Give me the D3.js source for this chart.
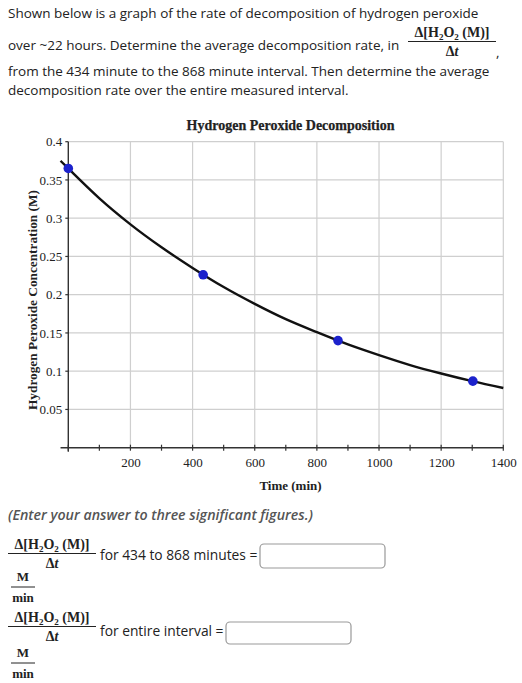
<!DOCTYPE html>
<html>
<head>
<meta charset="utf-8">
<script src="https://cdn.jsdelivr.net/npm/d3@7"></script>
<style>
  body { margin: 0; background: #fff; }
  text { fill: #222; }
  .tick text { font-family: 'Liberation Serif', 'Times New Roman', serif; font-size: 13px; }
</style>
</head>
<body>
<script>
// data
let measuredTimes = [0, 434, 868, 1302];
let measuredConc = [0.365, 0.226, 0.140, 0.087];
let curveTimes = [-25, 0, 100, 200, 300, 400, 500, 600, 700, 800, 900, 1000, 1100, 1200, 1300, 1400];
let curveConc = [0.375, 0.365, 0.326, 0.292, 0.262, 0.235, 0.210, 0.188, 0.168, 0.151, 0.135, 0.121, 0.108, 0.097, 0.087, 0.078];
let xTicks = [200, 400, 600, 800, 1000, 1200, 1400];
let xMinorTicks = [100, 300, 500, 700, 900, 1100, 1300];
let yTicks = [0.05, 0.1, 0.15, 0.2, 0.25, 0.3, 0.35, 0.4];

let width = 522;
let height = 683;
let svg = d3.select("body").append("svg")
    .attr("width", width).attr("height", height);

let sans = "'Open Sans', sans-serif";
let serif = "'Liberation Serif', 'Times New Roman', serif";
let questionSize = "13.5px";
let answerSize = "13.8px";

// 题目文字
let question = svg.append("g").style("font-family", sans).style("font-size", questionSize);
question.append("text").attr("x", 8).attr("y", 18)
    .text("Shown below is a graph of the rate of decomposition of hydrogen peroxide");
question.append("text").attr("x", 8).attr("y", 50)
    .text("over ~22 hours. Determine the average decomposition rate, in");
question.append("text").attr("x", 8).attr("y", 76)
    .text("from the 434 minute to the 868 minute interval. Then determine the average");
question.append("text").attr("x", 8).attr("y", 95)
    .text("decomposition rate over the entire measured interval.");
question.append("text").attr("x", 496).attr("y", 57).text(",");

// Δ[H2O2 (M)] / Δt fraction
function rateFraction(g, cx, top) {
    let num = g.append("text").attr("x", cx).attr("y", top)
        .attr("text-anchor", "middle")
        .style("font-family", serif).style("font-weight", "bold").style("font-size", "14px");
    num.append("tspan").text("Δ[H");
    num.append("tspan").attr("dy", 3).style("font-size", "9px").text("2");
    num.append("tspan").attr("dy", -3).text("O");
    num.append("tspan").attr("dy", 3).style("font-size", "9px").text("2");
    num.append("tspan").attr("dy", -3).text(" (M)]");
    g.append("line").attr("x1", cx - 44).attr("x2", cx + 44)
        .attr("y1", top + 4.5).attr("y2", top + 4.5)
        .attr("stroke", "#222").attr("stroke-width", 1);
    let den = g.append("text").attr("x", cx).attr("y", top + 19)
        .attr("text-anchor", "middle")
        .style("font-family", serif).style("font-weight", "bold").style("font-size", "14px");
    den.append("tspan").text("Δ");
    den.append("tspan").style("font-style", "italic").text("t");
}

function unitFraction(g, cx, top) {
    g.append("text").attr("x", cx).attr("y", top).attr("text-anchor", "middle")
        .style("font-family", serif).style("font-weight", "bold").style("font-size", "13px")
        .text("M");
    g.append("line").attr("x1", cx - 12).attr("x2", cx + 12)
        .attr("y1", top + 6).attr("y2", top + 6)
        .attr("stroke", "#222").attr("stroke-width", 1);
    g.append("text").attr("x", cx).attr("y", top + 21).attr("text-anchor", "middle")
        .style("font-family", serif).style("font-weight", "bold").style("font-size", "13px")
        .text("min");
}

rateFraction(svg.append("g"), 452, 37);

// 图表区域
let xScale = d3.scaleLinear().domain([0, 1400]).range([68.3, 503.3]);
let yScale = d3.scaleLinear().domain([0, 0.4]).range([447.7, 141.7]);

let chart = svg.append("g");

// 网格
chart.append("g").selectAll("line").data(xTicks).join("line")
    .attr("x1", d => xScale(d)).attr("x2", d => xScale(d))
    .attr("y1", yScale(0.4)).attr("y2", yScale(0))
    .attr("stroke", "#cfcfcf").attr("stroke-width", 1.2);
chart.append("g").selectAll("line").data(yTicks).join("line")
    .attr("x1", xScale(0)).attr("x2", xScale(1400))
    .attr("y1", d => yScale(d)).attr("y2", d => yScale(d))
    .attr("stroke", "#cfcfcf").attr("stroke-width", 1.2);

// 坐标轴文字样式
function tickTextStyle(g) {
    g.attr("font-family", serif).attr("font-size", 13);
    g.select(".domain").remove();
    g.selectAll("text").attr("fill", "#222");
}

// x轴
let xAxis = d3.axisBottom(xScale).tickValues(xTicks).tickSize(0).tickPadding(10)
    .tickFormat(d3.format("d"));
chart.append("g").attr("transform", `translate(0,${yScale(0)})`)
    .call(xAxis)
    .call(tickTextStyle);
chart.append("line")
    .attr("x1", xScale(-25)).attr("x2", xScale(1400))
    .attr("y1", yScale(0)).attr("y2", yScale(0))
    .attr("stroke", "#333").attr("stroke-width", 1.4);
chart.append("g").selectAll("line").data([0].concat(xTicks, xMinorTicks)).join("line")
    .attr("x1", d => xScale(d)).attr("x2", d => xScale(d))
    .attr("y1", yScale(0) - 3).attr("y2", yScale(0) + 3)
    .attr("stroke", "#333").attr("stroke-width", 1.2);

// y轴
let yAxis = d3.axisLeft(yScale).tickValues(yTicks).tickSize(0).tickPadding(6)
    .tickFormat(d => String(+d.toFixed(2)));
chart.append("g").attr("transform", `translate(${xScale(0)},0)`)
    .call(yAxis)
    .call(tickTextStyle);
chart.append("line")
    .attr("x1", xScale(0)).attr("x2", xScale(0))
    .attr("y1", yScale(0.4)).attr("y2", yScale(0) + 4)
    .attr("stroke", "#333").attr("stroke-width", 1.4);
chart.append("g").selectAll("line").data(yTicks).join("line")
    .attr("x1", xScale(0) - 3).attr("x2", xScale(0))
    .attr("y1", d => yScale(d)).attr("y2", d => yScale(d))
    .attr("stroke", "#333").attr("stroke-width", 1.2);

// 标题和轴标签
chart.append("text").attr("x", 290.5).attr("y", 130).attr("text-anchor", "middle")
    .style("font-family", serif).style("font-size", "14px").style("font-weight", "600")
    .attr("stroke", "#222").attr("stroke-width", 0.25)
    .text("Hydrogen Peroxide Decomposition");
chart.append("text").attr("x", 290.5).attr("y", 490).attr("text-anchor", "middle")
    .style("font-family", serif).style("font-size", "13px").style("font-weight", "bold")
    .text("Time (min)");
chart.append("text").attr("transform", "translate(37,300) rotate(-90)").attr("text-anchor", "middle")
    .style("font-family", serif).style("font-size", "13.3px").style("font-weight", "bold")
    .text("Hydrogen Peroxide Concentration (M)");

// 拟合曲线
let line = d3.line()
    .x((d, i) => xScale(curveTimes[i]))
    .y(d => yScale(d))
    .curve(d3.curveMonotoneX);
chart.append("path").datum(curveConc)
    .attr("d", line)
    .attr("fill", "none").attr("stroke", "#111").attr("stroke-width", 2.4);

// 数据点
chart.append("g").selectAll("circle").data(measuredConc).join("circle")
    .attr("cx", (d, i) => xScale(measuredTimes[i]))
    .attr("cy", d => yScale(d))
    .attr("r", 4.8)
    .attr("fill", "#1c22cc");

// 答题部分
let answer = svg.append("g");
answer.append("text").attr("x", 8).attr("y", 520)
    .style("font-family", sans).style("font-size", "14.2px")
    .style("font-style", "italic").style("font-weight", "600")
    .style("fill", "#555")
    .text("(Enter your answer to three significant figures.)");

rateFraction(answer, 52, 549);
answer.append("text").attr("x", 100).attr("y", 560)
    .style("font-family", sans).style("font-size", answerSize)
    .text("for 434 to 868 minutes =");
answer.append("rect").attr("x", 260).attr("y", 544).attr("width", 125).attr("height", 24)
    .attr("rx", 4).attr("fill", "#fff").attr("stroke", "#999").attr("stroke-width", 1.2);
unitFraction(answer, 23, 581);

rateFraction(answer, 52, 622);
answer.append("text").attr("x", 100).attr("y", 636)
    .style("font-family", sans).style("font-size", answerSize)
    .text("for entire interval =");
answer.append("rect").attr("x", 226).attr("y", 622).attr("width", 125).attr("height", 22)
    .attr("rx", 4).attr("fill", "#fff").attr("stroke", "#999").attr("stroke-width", 1.2);
unitFraction(answer, 23, 657);
</script>
</body>
</html>
